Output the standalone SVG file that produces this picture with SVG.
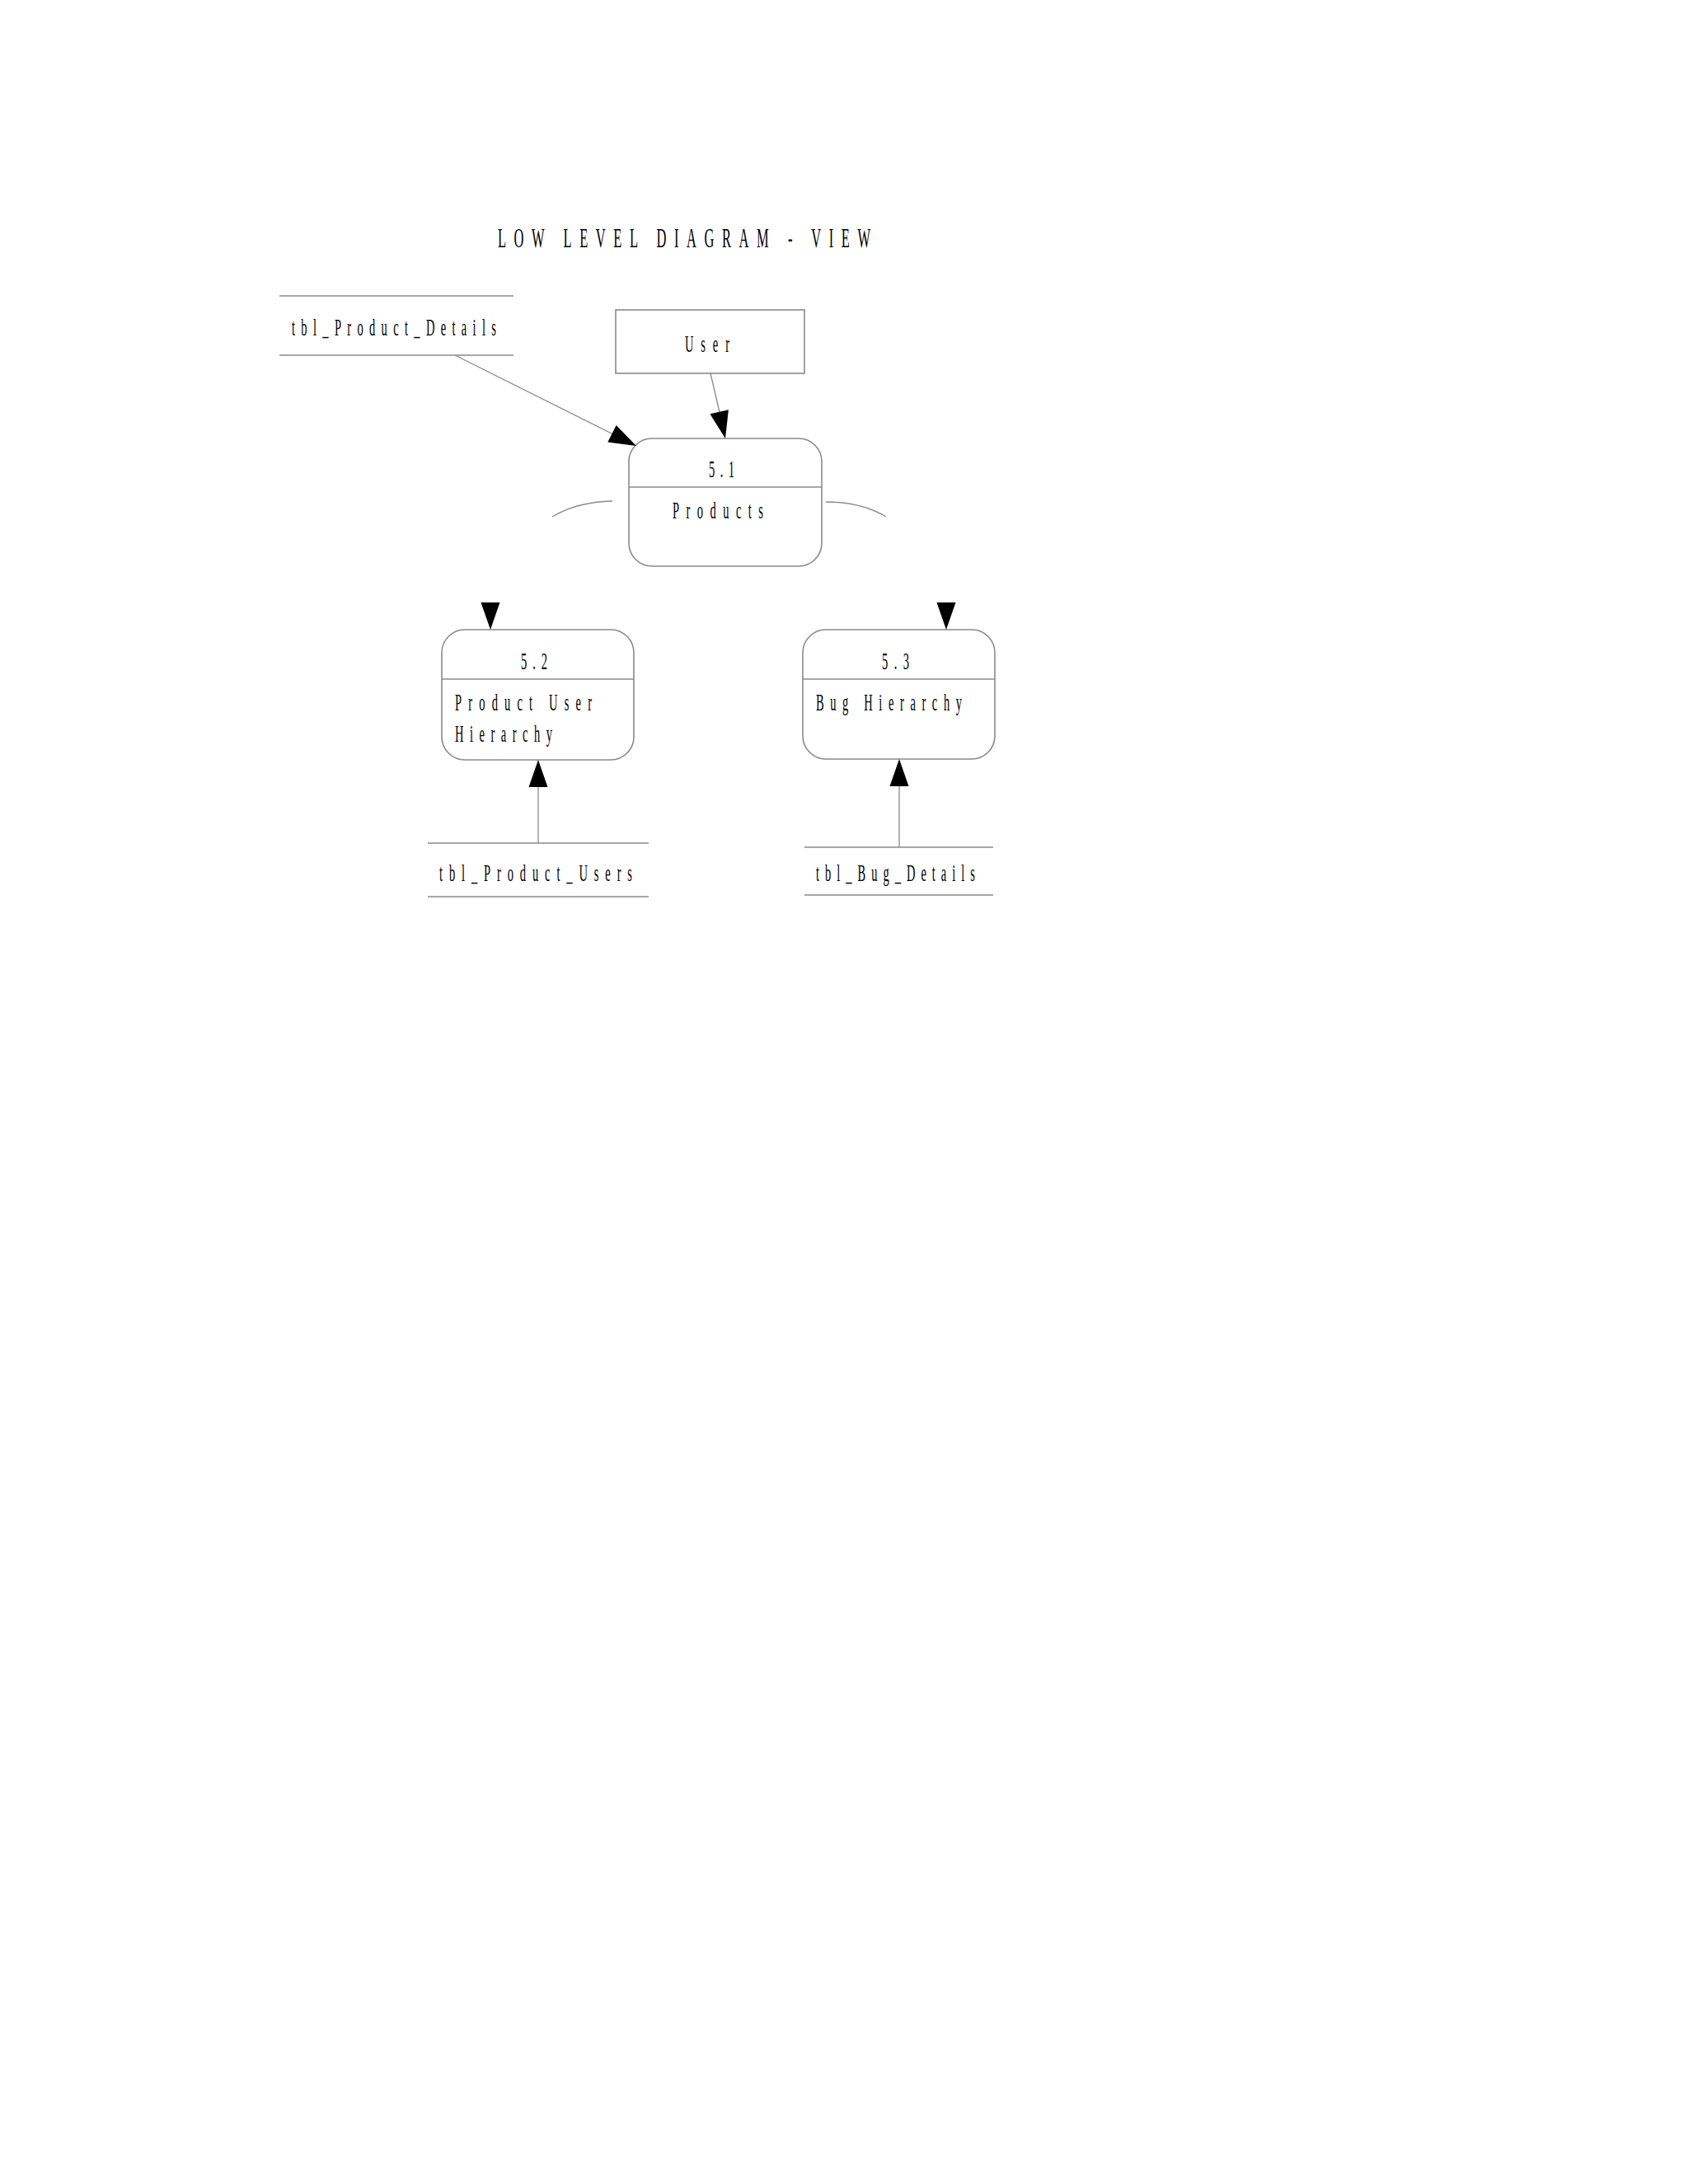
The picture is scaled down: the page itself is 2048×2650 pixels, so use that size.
<svg xmlns="http://www.w3.org/2000/svg" xmlns:xlink="http://www.w3.org/1999/xlink" width="2048" height="2650" viewBox="0 0 2048 2650">
<style>
.bg{fill:#ffffff}
.shape{fill:none;stroke:#8a8a8a;stroke-width:1.6}
.edge{fill:none;stroke:#8a8a8a;stroke-width:1.3}
.ah{fill:#000000;stroke:none}
.t{font-family:"Liberation Serif","Times New Roman",serif;font-size:29px;fill:#000000}
.title{font-family:"Liberation Serif","Times New Roman",serif;font-size:33px;fill:#000000}
</style>
<defs>
<path id="arrowhead" class="ah" d="M0,0 L-33,-11.5 L-33,11.5 Z"/>
</defs>
<rect class="bg" x="0" y="0" width="2048" height="2650"/>

<g id="title">
<text class="title" transform="translate(604,300) scale(0.5,1)" textLength="904" lengthAdjust="spacing">LOW LEVEL DIAGRAM - VIEW</text>
</g>

<g id="store-product-details">
<line class="shape" x1="339" y1="359" x2="623" y2="359"/>
<line class="shape" x1="339" y1="431" x2="623" y2="431"/>
<text class="t" transform="translate(354,407) scale(0.5,1)" textLength="496" lengthAdjust="spacing">tbl_Product_Details</text>
</g>

<g id="entity-user">
<rect class="shape" x="747" y="376" width="229" height="77"/>
<text class="t" transform="translate(831,427) scale(0.5,1)" textLength="108" lengthAdjust="spacing">User</text>
</g>

<g id="process-5-1">
<rect class="shape" x="763" y="532" width="234" height="155" rx="28" ry="28"/>
<line class="shape" x1="763" y1="591" x2="997" y2="591"/>
<text class="t" transform="translate(860,579) scale(0.5,1)" textLength="62" lengthAdjust="spacing">5.1</text>
<text class="t" transform="translate(816,629) scale(0.5,1)" textLength="220" lengthAdjust="spacing">Products</text>
</g>

<g id="process-5-2">
<rect class="shape" x="536" y="764" width="233" height="158" rx="28" ry="28"/>
<line class="shape" x1="536" y1="824" x2="769" y2="824"/>
<text class="t" transform="translate(632,812) scale(0.5,1)" textLength="64" lengthAdjust="spacing">5.2</text>
<text class="t" transform="translate(552,862) scale(0.5,1)" textLength="332" lengthAdjust="spacing">Product User</text>
<text class="t" transform="translate(552,900) scale(0.5,1)" textLength="236" lengthAdjust="spacing">Hierarchy</text>
</g>

<g id="process-5-3">
<rect class="shape" x="974" y="764" width="233" height="157" rx="28" ry="28"/>
<line class="shape" x1="974" y1="824" x2="1207" y2="824"/>
<text class="t" transform="translate(1070,812) scale(0.5,1)" textLength="66" lengthAdjust="spacing">5.3</text>
<text class="t" transform="translate(990,862) scale(0.5,1)" textLength="354" lengthAdjust="spacing">Bug Hierarchy</text>
</g>

<g id="store-product-users">
<line class="shape" x1="519" y1="1023" x2="787" y2="1023"/>
<line class="shape" x1="519" y1="1088" x2="787" y2="1088"/>
<text class="t" transform="translate(533,1069) scale(0.5,1)" textLength="468" lengthAdjust="spacing">tbl_Product_Users</text>
</g>

<g id="store-bug-details">
<line class="shape" x1="976" y1="1028" x2="1205" y2="1028"/>
<line class="shape" x1="976" y1="1086" x2="1205" y2="1086"/>
<text class="t" transform="translate(990,1069) scale(0.5,1)" textLength="386" lengthAdjust="spacing">tbl_Bug_Details</text>
</g>

<g id="connectors">
<line class="edge" x1="552" y1="431" x2="744" y2="527"/>
<use xlink:href="#arrowhead" href="#arrowhead" transform="translate(772,541) rotate(26.57)"/>
<line class="edge" x1="862" y1="453" x2="873" y2="500"/>
<use xlink:href="#arrowhead" href="#arrowhead" transform="translate(880,532) rotate(77.2)"/>
<path class="edge" d="M670,627 Q700,609 743,608"/>
<path class="edge" d="M1002,609 Q1045,609 1075,627"/>
<use xlink:href="#arrowhead" href="#arrowhead" transform="translate(595,764) rotate(90)"/>
<use xlink:href="#arrowhead" href="#arrowhead" transform="translate(1148,764) rotate(90)"/>
<line class="edge" x1="653" y1="1023" x2="653" y2="954"/>
<use xlink:href="#arrowhead" href="#arrowhead" transform="translate(653,922) rotate(-90)"/>
<line class="edge" x1="1091" y1="1028" x2="1091" y2="953"/>
<use xlink:href="#arrowhead" href="#arrowhead" transform="translate(1091,921) rotate(-90)"/>
</g>
</svg>
